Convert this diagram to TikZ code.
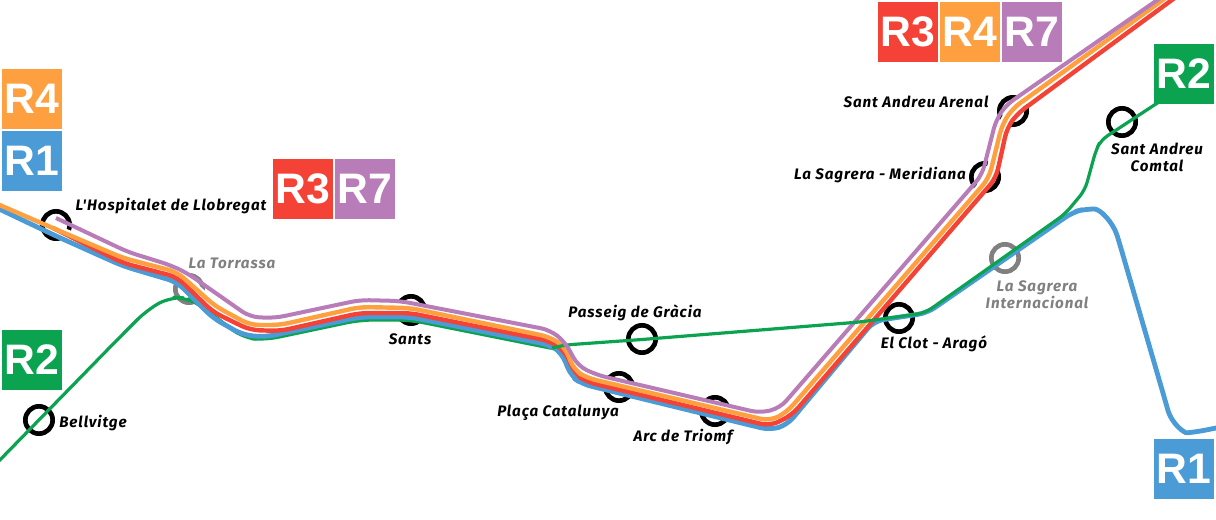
\documentclass[tikz,border=0pt]{standalone}
\usepackage{fontspec}
\setmainfont{Fira Sans}
\newfontfamily\boxfont{Liberation Sans}
\newfontfamily\lblfont[LetterSpace=6]{Fira Sans}
\definecolor{lred}{HTML}{F44336}
\definecolor{lorange}{HTML}{FFA040}
\definecolor{lblue}{HTML}{4A9BD6}
\definecolor{lpurple}{HTML}{B87DB8}
\definecolor{lgreen}{HTML}{0BA350}
\definecolor{lgrey}{HTML}{808080}
\tikzset{
  x=0.75pt,y=-0.75pt,
  linebox/.style={minimum size=45pt,inner sep=0pt,outer sep=0pt,text=white,font=\boxfont\fontsize{32}{32}\selectfont\bfseries},
  stn/.style={circle,draw=black,line width=3.5pt,minimum size=20.5pt,inner sep=0pt},
  stngrey/.style={stn,draw=lgrey},
  lbl/.style={font=\lblfont\fontsize{11.4}{12.8}\selectfont\bfseries\itshape,align=center,inner sep=0pt},
  lblgrey/.style={lbl,text=lgrey},
  rail/.style={line width=3.3pt,rounded corners=7pt,line join=round},
  greenrail/.style={lgreen,line width=2.4pt,line join=round,rounded corners=6pt},
}
\begin{document}
\begin{tikzpicture}
\useasboundingbox (0,0) rectangle (1216,520);
\clip (0,0) rectangle (1216,520);
\fill[white] (0,0) rectangle (1216,520);
% stations
\node[stn] (hosp) at (56,225) {};
\node[stngrey] (torr) at (189,289) {};
\node[stn] (sants) at (411,310) {};
\node[stn] (pg) at (642,339) {};
\node[stn] (pc) at (619,387) {};
\node[stn] (arc) at (715,411) {};
\node[stn] (clot) at (899,318) {};
\node[stngrey] (sint) at (1005,258) {};
\node[stn] (sae) at (1013,111) {};
\node[stn] (smer) at (985,177) {};
\node[stn] (sac) at (1122,122) {};
\node[stn] (bell) at (39,420) {};
% white band along the trunk
\draw[line width=7pt,white,rounded corners=7pt] (55,229) -- (123,258) -- (177,272) -- (215,306) -- (250,325) -- (280,325) -- (360,307) -- (410,308) -- (550,337) -- (565,347) -- (574,370) -- (587,378) -- (770,421) -- (787,412) -- (989,178) -- (1002,125) -- (1012,109) -- (1171,-6);
% R2 west
\draw[greenrail,rounded corners=10pt] (-5,465) -- (117,340) -- (147,310) -- (170,297) -- (187,298) -- (200,305) -- (243,338) -- (265,340) -- (360,320) -- (410,320) -- (555,349);
% R1
\draw[rail,lblue,line width=3.6pt] (-5,207) -- (56,236) -- (123,266) -- (177,282) -- (213,318) -- (243,335) -- (265,337) -- (360,317) -- (410,317) -- (550,345) -- (562,353) -- (571,376) -- (582,384) -- (770,430) -- (787,425) -- (874,321) -- (927,313) -- (1073,212) -- (1085,209) .. controls (1100,209) and (1113,222) .. (1120,245) -- (1165,400) .. controls (1172,425) and (1185,433) .. (1196,432) -- (1221,427);
% trunk
\draw[rail,lred] (53,228) -- (123,263) -- (177,277) -- (213,312) -- (250,330) -- (280,331) -- (360,313) -- (410,313) -- (550,341) -- (565,351) -- (575,374) -- (587,382) -- (770,426) -- (792,415) -- (996,178) -- (1007,128) -- (1017,114) -- (1180,-6);
\draw[rail,lorange] (-5,203) -- (55,229) -- (123,258) -- (177,272) -- (215,306) -- (250,325) -- (280,325) -- (360,307) -- (410,308) -- (550,337) -- (565,347) -- (574,370) -- (587,378) -- (770,421) -- (787,412) -- (989,178) -- (1002,125) -- (1012,109) -- (1171,-6);
\draw[greenrail] (552,348) -- (565,345) -- (642,339.5) coordinate (gmid);
\draw[rail,lpurple,line width=3pt] (56,218) -- (128,252) -- (170,265) -- (187,273) -- (250,317) -- (275,318) -- (360,300) -- (400,301) -- (550,330) -- (565,342) -- (578,366) -- (597,375) -- (760,413) -- (780,408) -- (982,175) -- (996,120) -- (1006,105) -- (1166,-6);
% R2 east
\draw[greenrail] (gmid) -- (860,322) -- (925,313) -- (1065,214) -- (1085,190) -- (1096,150) -- (1101,140) -- (1165,98);
% boxes
\node[linebox,fill=lorange] (b1) at (32,99) {R4};
\node[linebox,fill=lblue] (b2) at (32,161) {R1};
\node[linebox,fill=lred] (b3) at (303,189) {R3};
\node[linebox,fill=lpurple] (b4) at (365,189) {R7};
\node[linebox,fill=lgreen] (b5) at (32,360) {R2};
\node[linebox,fill=lred] (b6) at (908,32) {R3};
\node[linebox,fill=lorange] (b7) at (970,32) {R4};
\node[linebox,fill=lpurple] (b8) at (1032,32) {R7};
\node[linebox,fill=lgreen] (b9) at (1184,74) {R2};
\node[linebox,fill=lblue] (b10) at (1184,469) {R1};
% labels
\node[lbl] (t1) at (171,206) {L'Hospitalet de Llobregat};
\node[lblgrey] (t2) at (232,263) {La Torrassa};
\node[lbl] (t3) at (410,339) {Sants};
\node[lbl] (t4) at (635,313) {Passeig de Gràcia};
\node[lbl] (t5) at (558,413) {Plaça Catalunya};
\node[lbl] (t6) at (683,437) {Arc de Triomf};
\node[lbl] (t7) at (934,344) {El Clot - Aragó};
\node[lblgrey] (t8) at (1037,295) {La Sagrera\\Internacional};
\node[lbl] (t9) at (916,102) {Sant Andreu Arenal};
\node[lbl] (t10) at (880,175) {La Sagrera - Meridiana};
\node[lbl] (t11) at (1157,157) {Sant Andreu\\Comtal};
\node[lbl] (t12) at (93,423) {Bellvitge};
\end{tikzpicture}
\end{document}
